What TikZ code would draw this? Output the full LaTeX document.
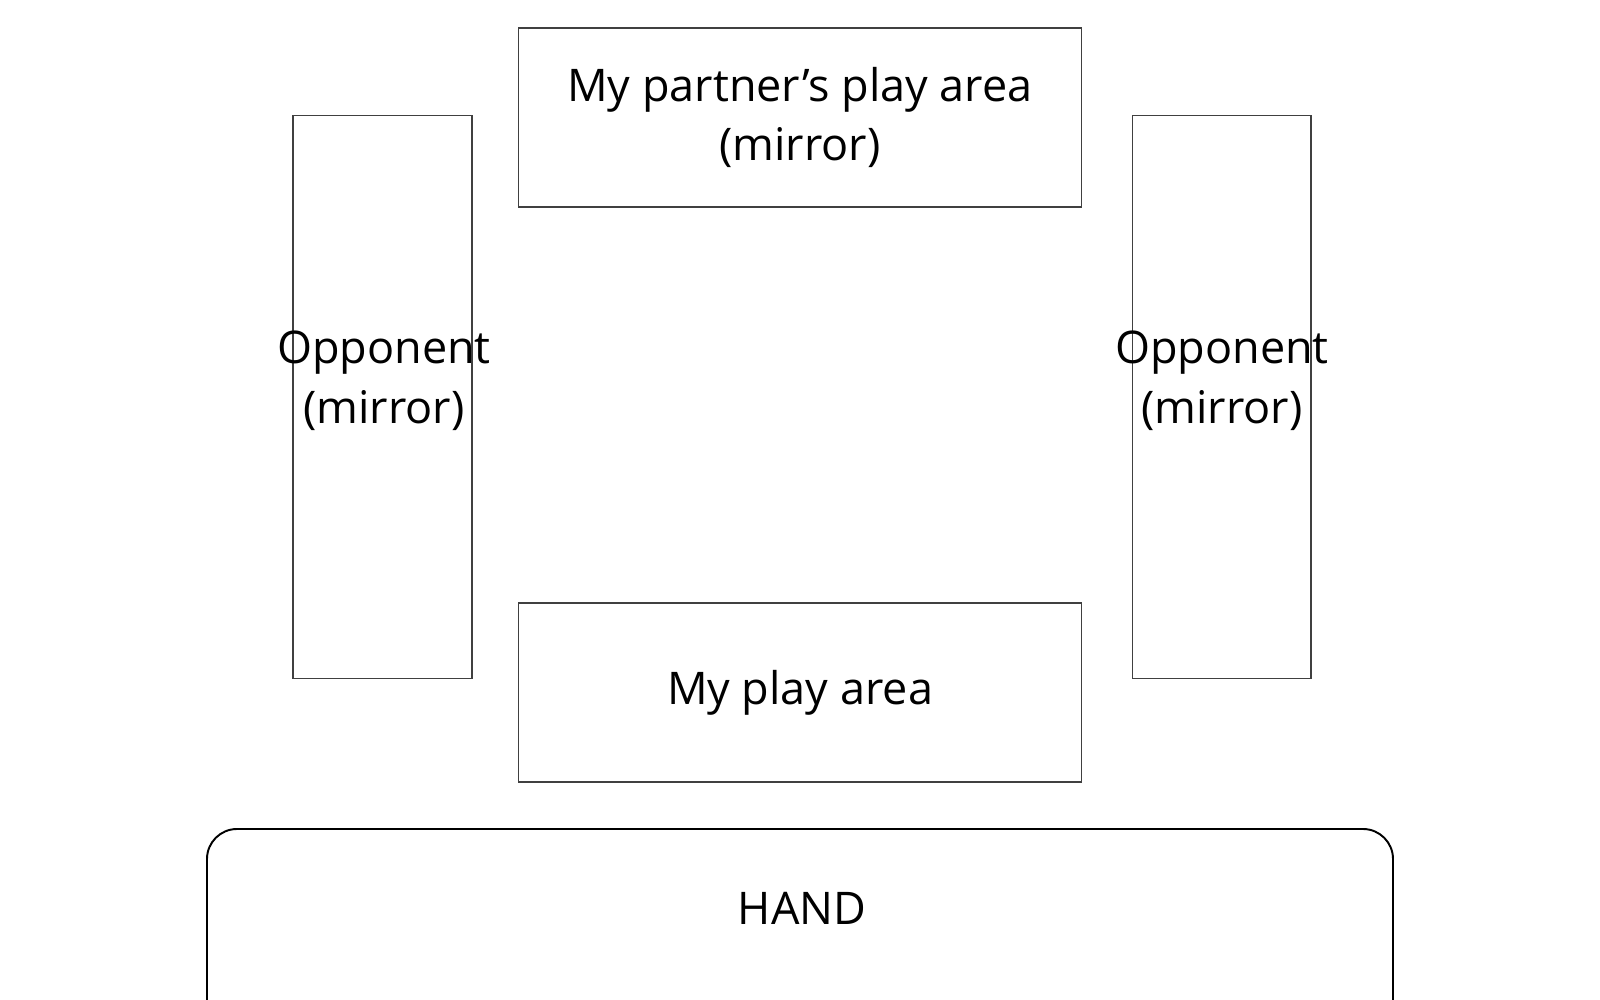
\documentclass[tikz,border=0pt]{standalone}
\usepackage{fontspec}
\setmainfont{Open Sans}
\usetikzlibrary{positioning}

\begin{document}
\begin{tikzpicture}[
  x=0.02cm, y=-0.02cm,
  every node/.style={font=\fontsize{25.6}{34}\selectfont, align=center},
  area/.style = {draw=black!75, line width=0.6pt, inner sep=0pt, minimum width=11.28cm, minimum height=3.58cm},
  side/.style = {draw=black!75, line width=0.6pt, inner sep=0pt, minimum width=3.58cm, minimum height=11.28cm},
  hand/.style = {draw=black, line width=1.1pt, rounded corners=0.6cm}
  ]
	\clip (0,0) rectangle (1600,1000);
	\useasboundingbox (0,0) rectangle (1600,1000);

	\coordinate (@1) at (800,117.5);
	\coordinate (@2) at (800,692.5);
	\coordinate (@3) at (382.5,397);
	\coordinate (@4) at (1221.5,397);
	\coordinate (@5) at (207,829);
	\coordinate (@6) at (1393,1060);

	\node[area] (partner) at (@1) {My partner’s play area\\(mirror)};
	\node[area] (mine) at (@2) {My play area};
	\node[side] (oppL) at (@3) {};
	\node[side] (oppR) at (@4) {};
	\node (oppLtxt) at (384,381) {Opponent\\(mirror)};
	\node (oppRtxt) at (1222,381) {Opponent\\(mirror)};

	\draw[hand] (@5) rectangle (@6);
	\node (handtxt) at (802,908) {HAND};

\end{tikzpicture}
\end{document}
